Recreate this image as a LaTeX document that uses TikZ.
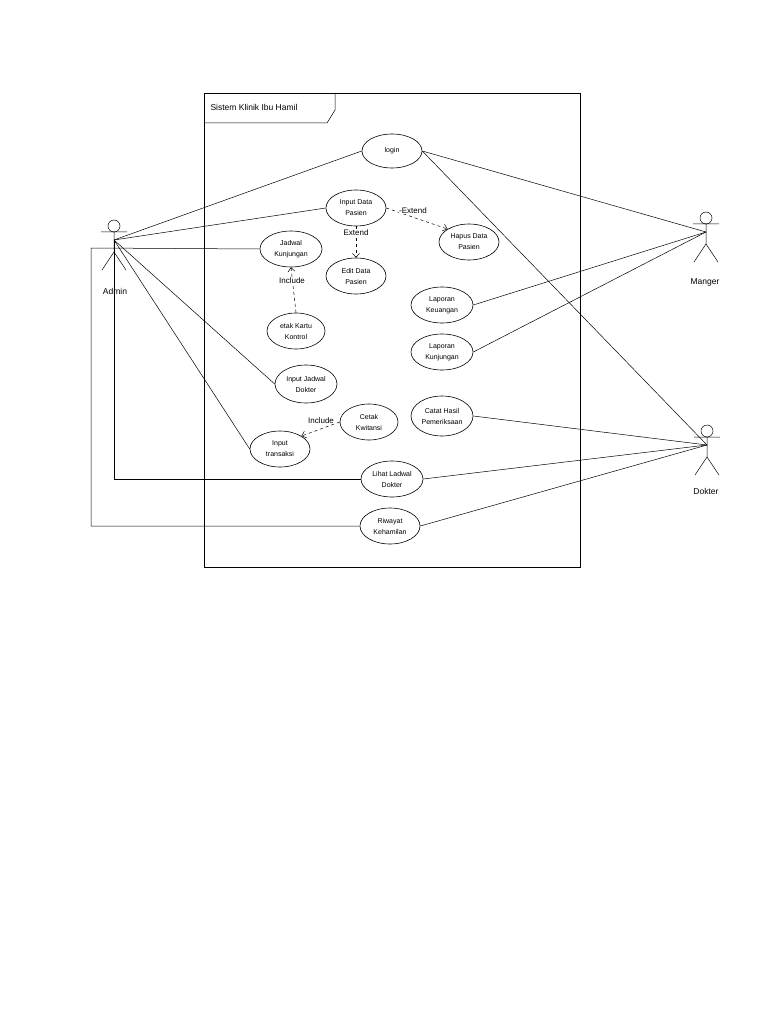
\documentclass[tikz,border=0pt]{standalone}
\usepackage{fontspec}
\setmainfont{Liberation Sans}
\usetikzlibrary{shapes.geometric,arrows.meta}
\begin{document}
\begin{tikzpicture}[x=1pt,y=-1pt,
  uc/.style={ellipse,draw,line width=0.6pt,minimum width=60pt,minimum height=36pt,inner sep=0pt,align=center,font=\fontsize{7}{11}\selectfont},
  assoc/.style={line width=0.5pt},
  dep/.style={dashed,line width=0.5pt,-{Straight Barb[length=4pt,width=7pt]}},
  lbl/.style={font=\fontsize{8}{9}\selectfont,fill=white,inner sep=0.5pt}]
\useasboundingbox (0,0) rectangle (768,1024);
\fill[white] (0,0) rectangle (768,1024);
% system
\draw[line width=0.6pt] (204,93) rectangle (580,567);
\draw[line width=0.5pt] (204,123) -- (327,123) -- (335,110) -- (335,93);
\node[anchor=west,font=\fontsize{8.5}{10}\selectfont] (title) at (207,107) {Sistem Klinik Ibu Hamil};
% actors
\newcommand{\actor}[3]{%
  \draw[line width=0.5pt] (#1,#2-12) circle (6);
  \draw[line width=0.5pt] (#1,#2-6) -- (#1,#2+14) (#1-13,#2-6) -- (#1+13,#2-6)
    (#1,#2+14) -- (#1-12,#2+32) (#1,#2+14) -- (#1+12,#2+32);
  \coordinate (#3) at (#1,#2+2);}
\actor{114}{238}{admin}
\node[font=\fontsize{8.5}{10}\selectfont] (adminl) at (115,291) {Admin};
\actor{706}{230}{manger}
\node[font=\fontsize{8.5}{10}\selectfont] (mangerl) at (705,282) {Manger};
\actor{707}{443}{dokter}
\node[font=\fontsize{8.5}{10}\selectfont] (dokterl) at (706,491) {Dokter};
% use cases
\node[uc,minimum height=34pt] (login) at (392,151) {login};
\node[uc] (idp) at (356,208) {Input Data\\Pasien};
\node[uc] (hapus) at (469,242) {Hapus Data\\Pasien};
\node[uc,minimum width=62pt] (jadwal) at (291,249) {Jadwal\\Kunjungan};
\node[uc] (edit) at (356,276) {Edit Data\\Pasien};
\node[uc,minimum width=62pt] (lkeu) at (442,305) {Laporan\\Keuangan};
\node[uc,minimum width=58pt] (kartu) at (296,331) {etak Kartu\\Kontrol};
\node[uc,minimum width=62pt] (lkun) at (442,352) {Laporan\\Kunjungan};
\node[uc,minimum width=62pt,minimum height=38pt] (ijd) at (306,384) {Input Jadwal\\Dokter};
\node[uc,minimum width=62pt,minimum height=40pt] (catat) at (442,416) {Catat Hasil\\Pemeriksaan};
\node[uc,minimum width=58pt] (cetak) at (369,422) {Cetak\\Kwitansi};
\node[uc] (itr) at (280,449) {Input\\transaksi};
\node[uc,minimum width=62pt] (lihat) at (392,479) {Lihat Ladwal\\Dokter};
\node[uc] (riwayat) at (390,526) {Riwayat\\Kehamilan};
% associations
\draw[assoc] (admin) -- (login.west);
\draw[assoc] (admin) -- (idp.west);
\draw[assoc] (admin) -- (ijd.west);
\draw[assoc] (admin) -- (itr.west);
\coordinate (ja) at (91,248);
\draw[assoc] (jadwal.west) -- (ja) |- (riwayat.west);
\draw[assoc] (admin) |- (lihat.west);
\draw[assoc] (login.east) -- (manger);
\draw[assoc] (login.east) -- (dokter);
\draw[assoc] (lkeu.east) -- (manger);
\draw[assoc] (lkun.east) -- (manger);
\draw[assoc] (catat.east) -- (dokter);
\draw[assoc] (lihat.east) -- (dokter);
\draw[assoc] (riwayat.east) -- (dokter);
% dependencies
\draw[dep] (idp.east) -- (hapus.north west);
\node[lbl] (l1) at (413,211) {-Extend};
\draw[dep] (idp.south) -- (edit.north);
\node[lbl] (l2) at (356,233) {Extend};
\draw[dep] (kartu.north) -- (jadwal.south);
\node[lbl] (l3) at (292,281) {Include};
\draw[dep] (cetak.west) -- (itr.north east);
\node[lbl] (l4) at (321,421) {Include};
\end{tikzpicture}
\end{document}
